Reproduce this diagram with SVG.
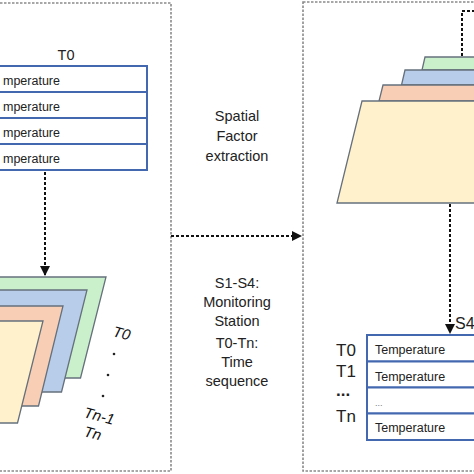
<svg xmlns="http://www.w3.org/2000/svg" width="474" height="474" viewBox="0 0 474 474">
<defs>
<style>
.panel{fill:none;stroke:#8a8a8a;stroke-width:1.6;stroke-dasharray:2.5 1.5}
.conn{fill:none;stroke:#111;stroke-width:2;stroke-dasharray:3 2}
.row{fill:#fff;stroke:#4468b0;stroke-width:2}
.cell{font-family:"Liberation Sans",Arial,sans-serif;font-size:12.5px;fill:#222}
.lbl{font-family:"Liberation Sans",Arial,sans-serif;font-size:14.5px;fill:#222;text-anchor:middle}
.tl{font-family:"Liberation Sans",Arial,sans-serif;font-size:17px;fill:#222}
.it{font-family:"Liberation Sans",Arial,sans-serif;font-size:15px;font-style:italic;fill:#111}
.ly{stroke:#66707c;stroke-width:1.3}
.g{fill:#c9f0cb}.b{fill:#b7cde9}.p{fill:#f8cfb4}.y{fill:#fff1cc}
</style>
<marker id="ah" viewBox="0 0 10 10" refX="9" refY="5" markerWidth="5" markerHeight="5" orient="auto" markerUnits="strokeWidth">
<path d="M0,0 L10,5 L0,10 Z" fill="#111"/>
</marker>
</defs>
<rect width="474" height="474" fill="#fff"/>
<g id="panel-left"><rect class="panel" x="-20" y="3" width="191" height="468"/></g>
<g id="panel-right"><rect class="panel" x="303" y="2" width="200" height="469"/></g>
<g id="table-left">
<text class="lbl" x="66" y="60">T0</text>
<rect class="row" x="-10" y="66" width="157" height="26"/>
<rect class="row" x="-10" y="92" width="157" height="26"/>
<rect class="row" x="-10" y="118" width="157" height="26"/>
<rect class="row" x="-10" y="144" width="157" height="26"/>
<text class="cell" x="3" y="85">mperature</text>
<text class="cell" x="3" y="111">mperature</text>
<text class="cell" x="3" y="137">mperature</text>
<text class="cell" x="3" y="163">mperature</text>
</g>
<g id="stack-left">
<polygon class="ly g" points="-30,277 106,277 80.5,378 -30,378"/>
<polygon class="ly b" points="-30,290 87,290 61.5,392 -30,392"/>
<polygon class="ly p" points="-30,306 63,306 38.5,406 -30,406"/>
<polygon class="ly y" points="-30,321 43,321 17.5,423 -30,423"/>
<text class="it" transform="translate(112,336) rotate(15)">T0</text>
<circle cx="114" cy="354" r="1.3" fill="#222"/>
<circle cx="108" cy="375" r="1.3" fill="#222"/>
<circle cx="103" cy="396" r="1.3" fill="#222"/>
<text class="it" transform="translate(83,417) rotate(15)">Tn-1</text>
<text class="it" transform="translate(83,436) rotate(15)">Tn</text>
</g>
<g id="middle-text">
<text class="lbl" x="237" y="121">Spatial</text>
<text class="lbl" x="237" y="141">Factor</text>
<text class="lbl" x="237" y="161">extraction</text>
<text class="lbl" x="237" y="288">S1-S4:</text>
<text class="lbl" x="237" y="307">Monitoring</text>
<text class="lbl" x="237" y="326">Station</text>
<text class="lbl" x="237" y="348">T0-Tn:</text>
<text class="lbl" x="237" y="367">Time</text>
<text class="lbl" x="237" y="386">sequence</text>
</g>
<g id="stack-right">
<polygon class="ly g" points="425,57 520,57 520,70 422,70"/>
<polygon class="ly b" points="405,70 520,70 520,85 401.5,85"/>
<polygon class="ly p" points="383,85 520,85 520,101 379,101"/>
<polygon class="ly y" points="362,101 520,101 520,203 337,203"/>
</g>
<g id="table-right">
<rect class="row" x="367" y="335" width="140" height="26.5"/>
<rect class="row" x="367" y="361.5" width="140" height="26"/>
<rect class="row" x="367" y="387.5" width="140" height="26"/>
<rect class="row" x="367" y="413.5" width="140" height="26.5"/>
<text class="cell" x="375" y="354">Temperature</text>
<text class="cell" x="375" y="381">Temperature</text>
<text class="cell" x="375" y="406" style="font-size:9px;fill:#777">...</text>
<text class="cell" x="375" y="432">Temperature</text>
<text class="tl" x="336" y="356">T0</text>
<text class="tl" x="336" y="377">T1</text>
<text class="tl" x="336" y="396" style="font-weight:bold">...</text>
<text class="tl" x="336" y="422">Tn</text>
<text class="tl" x="455" y="329" style="font-size:16px">S4</text>
</g>
<g id="connectors">
<line class="conn" x1="45" y1="172" x2="45" y2="275" marker-end="url(#ah)"/>
<line class="conn" x1="171" y1="236" x2="301" y2="236" marker-end="url(#ah)"/>
<polyline class="conn" points="480,11 462,11 462,57"/>
<line class="conn" x1="450" y1="204" x2="450" y2="333" marker-end="url(#ah)"/>
</g>
</svg>
